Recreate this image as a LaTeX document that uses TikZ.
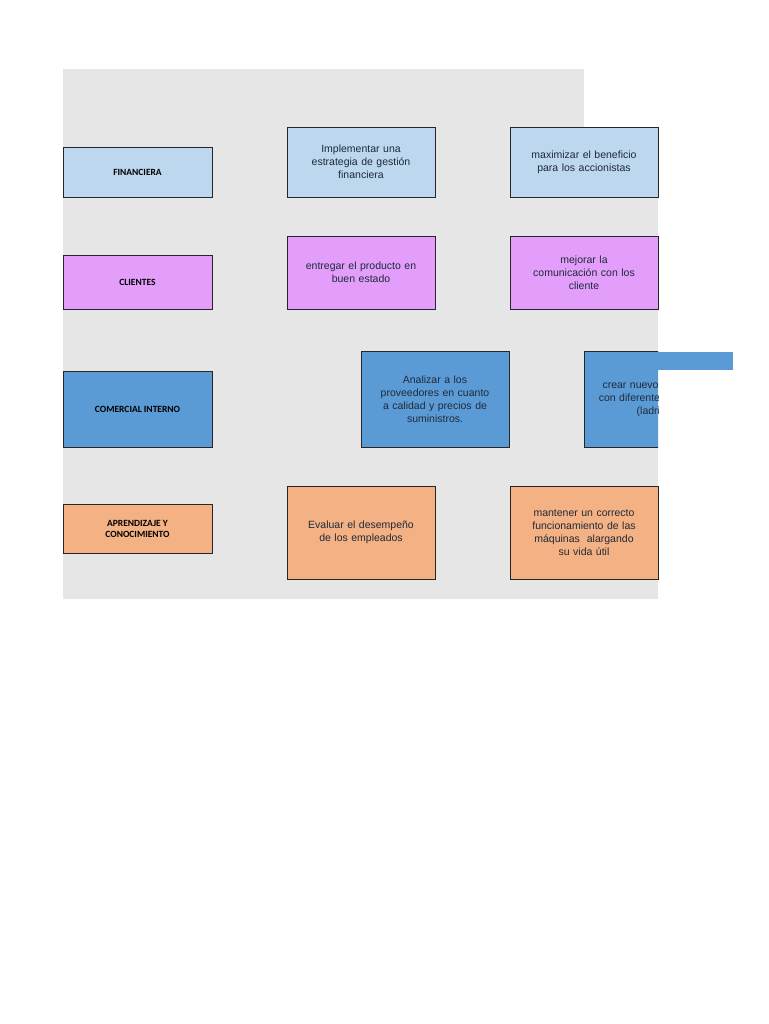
\documentclass[tikz,border=0pt]{standalone}
\usepackage{fontspec}
\setmainfont{Liberation Sans}
\newfontfamily\carlitofont{Carlito}
\definecolor{fin}{HTML}{BDD7EE}
\definecolor{cli}{HTML}{E29EFA}
\definecolor{com}{HTML}{5B9BD5}
\definecolor{apr}{HTML}{F4B183}
\definecolor{bg}{HTML}{E6E6E6}
\definecolor{txt}{HTML}{1F2A3A}
\begin{document}
\begin{tikzpicture}[x=1pt,y=-1pt,
  lbl/.style={draw=black!85,line width=0.6pt,minimum width=149pt,align=center,font=\carlitofont\bfseries\fontsize{9.5}{11}\selectfont,inner sep=1pt},
  obj/.style={draw=black!85,line width=0.6pt,minimum width=148pt,align=center,font=\fontsize{10.5}{13}\selectfont,text=txt,inner sep=1pt,text width=146pt}]
\useasboundingbox (0,0) rectangle (768,1024);
\fill[bg] (63,69) rectangle (584,127);
\fill[bg] (63,127) rectangle (658,599);
\node[lbl,fill=fin,minimum height=50pt] (f) at (137.5,172) {FINANCIERA};
\node[lbl,fill=cli,minimum height=54pt] (c) at (137.5,282) {CLIENTES};
\node[lbl,fill=com,minimum height=76pt] (ci) at (137.5,409) {COMERCIAL INTERNO};
\node[lbl,fill=apr,minimum height=49pt] (a) at (137.5,528.5) {APRENDIZAJE Y\\CONOCIMIENTO};
\node[obj,fill=fin,minimum height=70pt] (f1) at (361,162) {Implementar una\\estrategia de gestión\\financiera};
\node[obj,fill=fin,minimum height=70pt] (f2) at (584,162) {maximizar el beneficio\\para los accionistas};
\node[obj,fill=cli,minimum height=73pt] (c1) at (361,272.5) {entregar el producto en\\buen estado\\[12pt]};
\node[obj,fill=cli,minimum height=73pt] (c2) at (584,272.5) {mejorar la\\comunicación con los\\cliente};
\node[obj,fill=com,minimum height=96pt] (ci1) at (435,399) {Analizar a los\\proveedores en cuanto\\a calidad y precios de\\suministros.\\[8pt]};
\begin{scope}
\clip (584,340) rectangle (658,460);
\node[obj,fill=com,minimum height=96pt] (ci2) at (658,399) {crear nuevos productos\\con diferentes materiales\\(ladrillos)\\[8pt]};
\end{scope}
\fill[com] (658,352) rectangle (733,370);
\node[obj,fill=apr,minimum height=93pt] (a1) at (361,532.5) {Evaluar el desempeño\\de los empleados\\[20pt]};
\node[obj,fill=apr,minimum height=93pt] (a2) at (584,532.5) {mantener un correcto\\funcionamiento de las\\máquinas\ \ alargando\\su vida útil};
\end{tikzpicture}
\end{document}
